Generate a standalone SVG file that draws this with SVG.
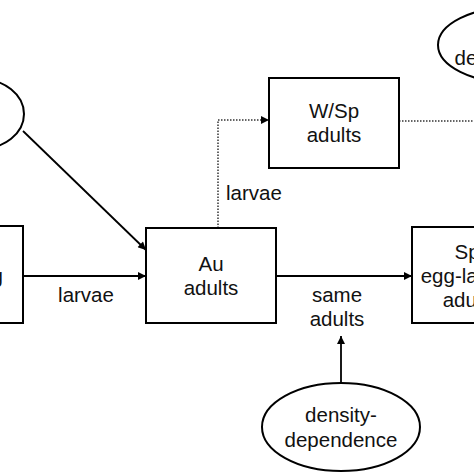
<svg xmlns="http://www.w3.org/2000/svg" width="474" height="474" viewBox="0 0 474 474">
<defs>
<style>
.box{fill:#fff;stroke:#000;stroke-width:2}
.ell{fill:#fff;stroke:#000;stroke-width:2}
.t{font-family:"Liberation Sans",Arial,sans-serif;font-size:20.5px;fill:#111;text-anchor:middle}
.ln{fill:none;stroke:#000;stroke-width:1.8}
.dot{fill:none;stroke:#333;stroke-width:1.5;stroke-dasharray:1.5 1.5}
</style>
<marker id="ah" viewBox="0 0 10 10" refX="10" refY="5" markerWidth="10" markerHeight="8" markerUnits="userSpaceOnUse" orient="auto">
<path d="M0,0 L10,5 L0,10 z" fill="#000"/>
</marker>
</defs>
<rect width="474" height="474" fill="#fff"/>
<g id="connectors">
<line class="ln" x1="23" y1="276" x2="146" y2="276" marker-end="url(#ah)"/>
<line class="ln" x1="23" y1="131" x2="146" y2="250" marker-end="url(#ah)"/>
<line class="ln" x1="276" y1="276" x2="412" y2="276" marker-end="url(#ah)"/>
<line class="ln" x1="341" y1="383" x2="341" y2="336" marker-end="url(#ah)"/>
<path class="dot" d="M218,228 V120 H269" marker-end="url(#ah)"/>
<path class="dot" d="M399,121 H474"/>
<text class="t" x="86" y="302">larvae</text>
<text class="t" x="226" y="200" style="text-anchor:start">larvae</text>
<text class="t" x="337" y="302">same</text>
<text class="t" x="337" y="326">adults</text>
</g>
<g id="node-left-ellipse">
<ellipse class="ell" cx="-20" cy="114" rx="44" ry="35"/>
</g>
<g id="node-left-box">
<rect class="box" x="-110" y="226" width="133" height="97"/>
<text class="t" x="3" y="283" style="text-anchor:end">egg-laying</text>
</g>
<g id="node-au">
<rect class="box" x="146" y="228" width="130" height="95"/>
<text class="t" x="211" y="271">Au</text>
<text class="t" x="211" y="295">adults</text>
</g>
<g id="node-wsp">
<rect class="box" x="269" y="78" width="130" height="90"/>
<text class="t" x="334" y="118">W/Sp</text>
<text class="t" x="334" y="142">adults</text>
</g>
<g id="node-sp">
<rect class="box" x="412" y="227" width="115" height="96"/>
<text class="t" x="467" y="259">Sp</text>
<text class="t" x="468" y="283">egg-laying</text>
<text class="t" x="470" y="307">adults</text>
</g>
<g id="node-dd-bottom">
<ellipse class="ell" cx="341" cy="427" rx="79" ry="44"/>
<text class="t" x="341" y="422">density-</text>
<text class="t" x="341" y="447">dependence</text>
</g>
<g id="node-dd-top">
<ellipse class="ell" cx="514" cy="45" rx="76" ry="38"/>
<text class="t" x="514" y="40">density-</text>
<text class="t" x="511" y="65">dependence</text>
</g>
</svg>
